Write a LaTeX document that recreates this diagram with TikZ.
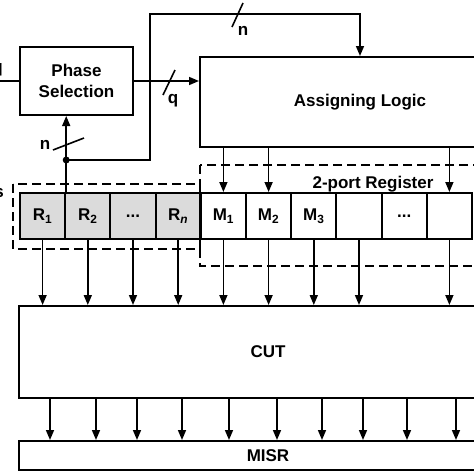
\documentclass[tikz,border=0pt]{standalone}
\usepackage{fontspec}
\setmainfont{Liberation Sans}
\usetikzlibrary{arrows.meta}

\begin{document}
\begin{tikzpicture}[x=1pt, y=-1pt,
    box/.style={draw, line width=2pt, inner sep=0pt},
    cell/.style={draw, line width=2pt, minimum width=45.2pt, minimum height=46pt, inner sep=0pt},
    arr/.style={line width=1.6pt, -{Triangle[length=10pt,width=8pt]}},
    wire/.style={line width=1.6pt},
    dashbox/.style={line width=1.8pt, dash pattern=on 9pt off 5pt},
    lbl/.style={font=\fontsize{17}{20}\bfseries\selectfont, inner sep=0pt}]
    \useasboundingbox (0,0) rectangle (474,474);
    \fontsize{17}{21}\bfseries\selectfont

    % Draw blocks
    \node[box, minimum width=113pt, minimum height=68pt, align=center] (phase) at (76.5,81) {Phase\\Selection};
    \node[box, minimum width=320pt, minimum height=90pt] (assign) at (360,102) {Assigning Logic};
    \node[box, minimum width=498pt, minimum height=92pt] (cut) at (268,352) {CUT};
    \node[box, minimum width=498pt, minimum height=29pt] (misr) at (268,455.5) {MISR};

    % Draw register cells
    \foreach \i/\t in {1/{R\textsubscript{1}}, 2/{R\textsubscript{2}}, 3/{{...}}, 4/{R\textsubscript{\textit{n}}}}
      \node[cell, fill=gray!28] (c\i) at (20+45.2*\i-22.6,216) {\t};
    \foreach \i/\t in {5/{M\textsubscript{1}}, 6/{M\textsubscript{2}}, 7/{M\textsubscript{3}}, 8/{}, 9/{{...}}, 10/{}}
      \node[cell] (c\i) at (20+45.2*\i-22.6,216) {\t};

    % Draw dashed groups
    \draw[dashbox] (13,184) rectangle (200,249);
    \draw[dashbox] (200,165) rectangle (520,266);
    \node[anchor=center] (reglbl) at (373,184) {2-port Register};
    \node[anchor=east, inner sep=0pt] (rlbl) at (4,193) {s};

    % Draw phase selection wiring
    \coordinate (in) at (-2,81);
    \node[anchor=east, inner sep=0pt] (inlbl) at (3,70) {q};
    \draw[wire] (in) -- (phase.west);
    \draw[arr] (phase.east) -- (phase.east -| assign.west);
    \draw[arr] (c1.north east) -- (c1.north east |- phase.south);
    \coordinate (jn) at (c1.north east |- 0,160);
    \coordinate (turn) at (150,14);
    \fill (jn) circle (3.5pt);
    \draw[arr] (jn) -| (turn) -| (assign.north);

    % Draw bus marks
    \draw[wire] (163,95) -- (175,70);
    \node[lbl] (q) at (173,101) {q};
    \draw[wire] (232,27) -- (243,3);
    \node[lbl] (n1) at (243,31) {n};
    \draw[wire] (53,150) -- (84,138);
    \node[lbl] (n2) at (45,145) {n};

    % Draw assigning logic outputs
    \foreach \i in {5,6,10}
      \draw[arr] (c\i.north |- assign.south) -- (c\i.north);

    % Draw register outputs
    \foreach \i in {1,...,8,10}
      \draw[arr] (c\i.south) -- (c\i.south |- cut.north);

    % Draw CUT outputs
    \foreach \x [count=\k] in {50,96,137,182,229,277,322,363,407,456} {
      \coordinate (m\k) at (\x,0);
      \draw[arr] (cut.south -| m\k) -- (misr.north -| m\k);
    }
\end{tikzpicture}
\end{document}
